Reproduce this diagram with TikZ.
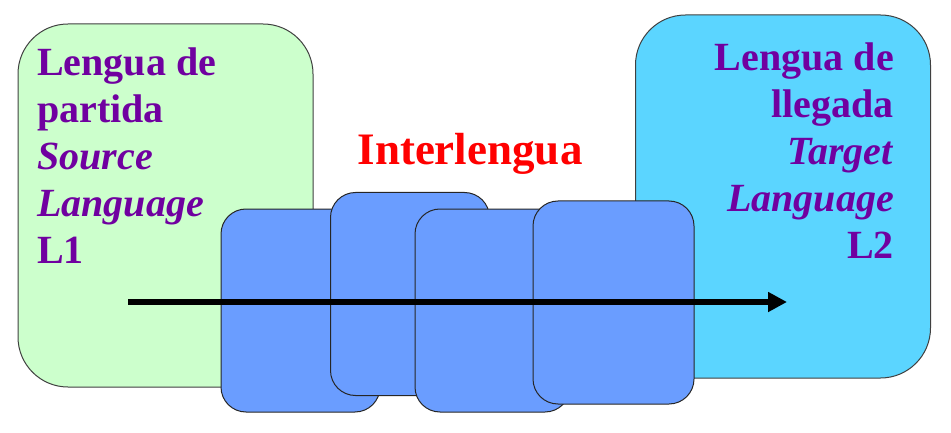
\documentclass[tikz,border=0pt]{standalone}
\usepackage{fontspec}
\setmainfont{Liberation Serif}[BoldFont={Liberation Serif Bold}, BoldItalicFont={Liberation Serif Bold Italic}]
\usetikzlibrary{arrows.meta}
\definecolor{srcgreen}{HTML}{CCFFCC}
\definecolor{tgtcyan}{HTML}{5BD5FF}
\definecolor{ilblue}{HTML}{6A9DFF}
\definecolor{labpurple}{HTML}{7000A0}
\tikzset{
  langbox/.style={draw=black!75, line width=1pt, rounded corners=50pt,
    minimum width=295pt, minimum height=363pt, inner sep=0pt},
  interbox/.style={draw=black!85, line width=1pt, rounded corners=25pt,
    fill=ilblue, minimum width=159pt, minimum height=203pt, inner sep=0pt},
  langtext/.style={text=labpurple, font=\fontsize{40}{47}\selectfont\bfseries, inner sep=0pt}
}
\begin{document}
\begin{tikzpicture}[x=1pt, y=-1pt]
      \useasboundingbox (0,0) rectangle (951,433);
      \node[langbox, fill=srcgreen] (src) at (165.5,205.5) {};
      \node[langbox, fill=tgtcyan] (tgt) at (783,196.5) {};
      \node[langtext, anchor=base west, align=left] (srclab) at (37,263)
        {Lengua de\\partida\\\textit{Source}\\\textit{Language}\\L1};
      \node[langtext, anchor=base east, align=right] (tgtlab) at (894,258)
        {Lengua de\\llegada\\\textit{Target}\\\textit{Language}\\L2};
      \node[text=red, font=\fontsize{45}{54}\selectfont\bfseries, inner sep=0pt, anchor=base]
        (ilab) at (470,165) {Interlengua};
      \node[interbox] (il1) at (300.5,310.5) {};
      \node[interbox] (il2) at (410,294) {};
      \node[interbox, minimum width=155pt] (il3) at (492.5,310.5) {};
      \node[interbox, minimum width=161pt] (il4) at (613.5,302.5) {};
      \coordinate (start) at (128,302);
      \coordinate (end) at (787,302);
      \draw[line width=5.5pt, -{Triangle[length=19pt,width=19pt]}] (start) -- (end);
    \end{tikzpicture}
\end{document}
